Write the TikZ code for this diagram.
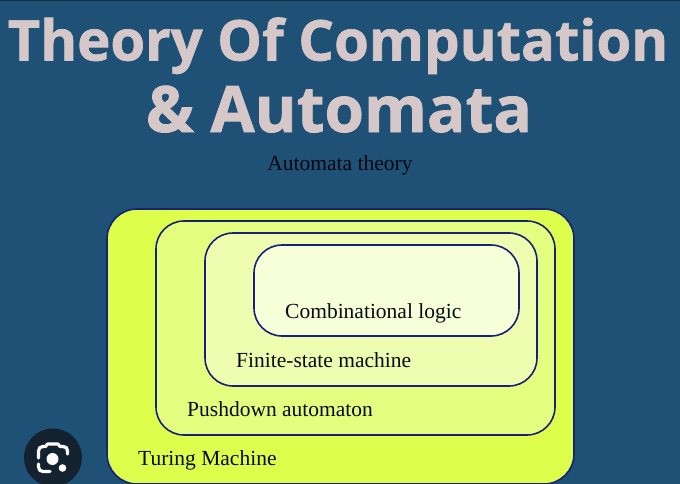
\documentclass[tikz,border=0pt]{standalone}
\usepackage{fontspec}
\setmainfont{Liberation Serif}
\newfontfamily\titlefont{Open Sans}[BoldFont={Open Sans Bold},BoldFeatures={FakeBold=1.2}]
\definecolor{bgblue}{HTML}{1F5075}
\definecolor{titlecol}{HTML}{D6C8C8}
\definecolor{edgeblue}{HTML}{1A1F7A}
\definecolor{lvlA}{HTML}{DDFF4C}
\definecolor{lvlB}{HTML}{E4FF80}
\definecolor{lvlC}{HTML}{EEFDB0}
\definecolor{lvlD}{HTML}{F6FFD8}
\definecolor{lensbg}{HTML}{14212E}
\tikzset{
  x=1pt,y=-1pt,
  titletext/.style={font=\titlefont\bfseries\fontsize{#1}{#1}\selectfont,text=titlecol,inner sep=0pt,anchor=base},
  labeltext/.style={font=\fontsize{21.5}{24}\selectfont,text=black!85!bgblue,inner sep=0pt,anchor=base west},
  box/.style={draw=edgeblue,line width=1.6pt,rounded corners=#1},
  lensline/.style={white,line width=3.2pt,line cap=round,line join=round},
}
\begin{document}
\begin{tikzpicture}
\useasboundingbox (0,0) rectangle (680,484);
\fill[bgblue] (0,0) rectangle (680,484);
\fill[lensbg!80!bgblue] (0,0) rectangle (680,1);
\node[titletext=56.2] (t1) at (338,60.5) {Theory Of Computation};
\node[titletext=64] (t2) at (339,132) {\& Automata};
\node[labeltext,anchor=base,text=black!90!bgblue] (sub) at (340,171) {Automata theory};
\begin{scope}
\clip (0,0) rectangle (680,484);
\draw[box=30pt,fill=lvlA] (107,209) rectangle (574,484);
\end{scope}
\draw[box=28pt,fill=lvlB] (156,221) rectangle (555,435);
\draw[box=28pt,fill=lvlC] (205,233) rectangle (537,386);
\draw[box=28pt,fill=lvlD] (254,245) rectangle (519,336);
\node[labeltext] (l4) at (285,318) {Combinational logic};
\node[labeltext] (l3) at (236,367) {Finite-state machine};
\node[labeltext] (l2) at (187,416) {Pushdown automaton};
\node[labeltext] (l1) at (138,465) {Turing Machine};
% lens icon
\fill[lensbg] (53,457.5) circle (29);
\draw[lensline]
  (38.5,458) -- (38.5,451) .. controls (38.5,448) and (40.5,446.5) .. (43,446.5) -- (45.5,446.5) -- (47.5,444) -- (58,444) -- (60,446.5) -- (63,446.5) .. controls (66,446.5) and (67.5,448) .. (67.5,451) -- (67.5,454);
\draw[lensline]
  (38.5,464) -- (38.5,467) .. controls (38.5,470) and (40.5,471.5) .. (43,471.5) -- (50,471.5);
\fill[white] (52.5,459) circle (6);
\fill[white] (62.5,468) circle (3.8);
\end{tikzpicture}
\end{document}
